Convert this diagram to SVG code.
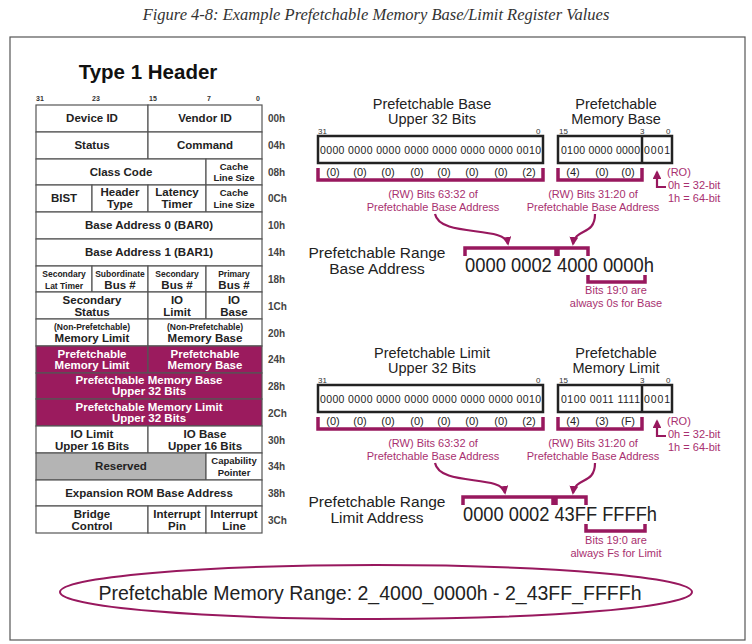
<svg xmlns="http://www.w3.org/2000/svg" width="752" height="644" viewBox="0 0 752 644">
<defs>
<marker id="ah" viewBox="0 0 10 10" refX="8" refY="5" markerWidth="4" markerHeight="4" orient="auto"><path d="M0 0 L10 5 L0 10 z" fill="#98185e"/></marker>
<style>
text{font-family:"Liberation Sans",Arial,sans-serif}
.c{fill:#fff;stroke:#555;stroke-width:1.2}
.p{fill:#9b1b5e;stroke:#555;stroke-width:1.2}
.g{fill:#b4b4b4;stroke:#555;stroke-width:1.2}
.t{font-size:11.5px;font-weight:bold;fill:#222;text-anchor:middle}
.s{font-size:9.5px;font-weight:bold;fill:#222;text-anchor:middle}
.w{font-size:11.5px;font-weight:bold;fill:#fff;text-anchor:middle}
.off{font-size:10px;font-weight:bold;fill:#444}
.bit{font-size:7px;font-weight:bold;fill:#333}
.h{font-size:14.5px;fill:#222;text-anchor:middle}
.box{fill:#fff;stroke:#222;stroke-width:2.5}
.bv{font-size:10.5px;fill:#222}
.hx{font-size:11px;fill:#222;text-anchor:middle}
.br{fill:none;stroke:#98185e;stroke-width:3.5}
.pt{font-size:11px;fill:#a8306f;text-anchor:middle}
.pl{font-size:11px;fill:#a8306f}
.lbl{font-size:15.5px;fill:#222;text-anchor:middle}
.addr{font-size:21px;fill:#222}
.arr{fill:none;stroke:#98185e;stroke-width:2.2}
</style>
</defs>
<text x="376" y="20" style="font-family:'Liberation Serif',serif;font-style:italic;font-size:16.5px;fill:#333" text-anchor="middle">Figure 4-8: Example Prefetchable Memory Base/Limit Register Values</text>
<rect x="10" y="37" width="735" height="603" fill="#fff" stroke="#555" stroke-width="1.2"/>

<g id="header">
<text x="148" y="79" style="font-size:20.5px;font-weight:bold;fill:#111" text-anchor="middle">Type 1 Header</text>
<text class="bit" x="36" y="101">31</text><text class="bit" x="92" y="101">23</text><text class="bit" x="149" y="101">15</text><text class="bit" x="207" y="101">7</text><text class="bit" x="256" y="101">0</text>
<g id="r00"><rect class="c" x="36" y="105" width="112" height="27"/><rect class="c" x="148" y="105" width="114" height="27"/><text class="t" x="92" y="122">Device ID</text><text class="t" x="205" y="122">Vendor ID</text><text class="off" x="268" y="122">00h</text></g>
<g id="r04"><rect class="c" x="36" y="132" width="112" height="27"/><rect class="c" x="148" y="132" width="114" height="27"/><text class="t" x="92" y="149">Status</text><text class="t" x="205" y="149">Command</text><text class="off" x="268" y="149">04h</text></g>
<g id="r08"><rect class="c" x="36" y="159" width="170" height="26"/><rect class="c" x="206" y="159" width="56" height="26"/><text class="t" x="121" y="176">Class Code</text><text class="s" x="234" y="170">Cache</text><text class="s" x="234" y="181">Line Size</text><text class="off" x="268" y="176">08h</text></g>
<g id="r0C"><rect class="c" x="36" y="185" width="56" height="27"/><rect class="c" x="92" y="185" width="56" height="27"/><rect class="c" x="148" y="185" width="58" height="27"/><rect class="c" x="206" y="185" width="56" height="27"/><text class="t" x="64" y="202">BIST</text><text class="t" x="120" y="196">Header</text><text class="t" x="120" y="208">Type</text><text class="t" x="177" y="196">Latency</text><text class="t" x="177" y="208">Timer</text><text class="s" x="234" y="196">Cache</text><text class="s" x="234" y="208">Line Size</text><text class="off" x="268" y="202">0Ch</text></g>
<g id="r10"><rect class="c" x="36" y="212" width="226" height="27"/><text class="t" x="149" y="229">Base Address 0 (BAR0)</text><text class="off" x="268" y="229">10h</text></g>
<g id="r14"><rect class="c" x="36" y="239" width="226" height="27"/><text class="t" x="149" y="256">Base Address 1 (BAR1)</text><text class="off" x="268" y="256">14h</text></g>
<g id="r18"><rect class="c" x="36" y="266" width="56" height="26"/><rect class="c" x="92" y="266" width="56" height="26"/><rect class="c" x="148" y="266" width="58" height="26"/><rect class="c" x="206" y="266" width="56" height="26"/><text class="s" x="64" y="277" style="font-size:8.5px">Secondary</text><text class="s" x="64" y="289" style="font-size:8.5px">Lat Timer</text><text class="s" x="120" y="277" style="font-size:8.5px">Subordinate</text><text class="t" x="120" y="289">Bus #</text><text class="s" x="177" y="277" style="font-size:8.5px">Secondary</text><text class="t" x="177" y="289">Bus #</text><text class="s" x="234" y="277" style="font-size:8.5px">Primary</text><text class="t" x="234" y="289">Bus #</text><text class="off" x="268" y="283">18h</text></g>
<g id="r1C"><rect class="c" x="36" y="292" width="112" height="27"/><rect class="c" x="148" y="292" width="58" height="27"/><rect class="c" x="206" y="292" width="56" height="27"/><text class="t" x="92" y="304">Secondary</text><text class="t" x="92" y="316">Status</text><text class="t" x="177" y="304">IO</text><text class="t" x="177" y="316">Limit</text><text class="t" x="234" y="304">IO</text><text class="t" x="234" y="316">Base</text><text class="off" x="268" y="310">1Ch</text></g>
<g id="r20"><rect class="c" x="36" y="319" width="112" height="27"/><rect class="c" x="148" y="319" width="114" height="27"/><text class="s" x="92" y="330" style="font-size:8.5px">(Non-Prefetchable)</text><text class="t" x="92" y="342">Memory Limit</text><text class="s" x="205" y="330" style="font-size:8.5px">(Non-Prefetchable)</text><text class="t" x="205" y="342">Memory Base</text><text class="off" x="268" y="337">20h</text></g>
<g id="r24"><rect class="p" x="36" y="346" width="112" height="27"/><rect class="p" x="148" y="346" width="114" height="27"/><text class="w" x="92" y="358">Prefetchable</text><text class="w" x="92" y="369">Memory Limit</text><text class="w" x="205" y="358">Prefetchable</text><text class="w" x="205" y="369">Memory Base</text><text class="off" x="268" y="363">24h</text></g>
<g id="r28"><rect class="p" x="36" y="373" width="226" height="26"/><text class="w" x="149" y="384">Prefetchable Memory Base</text><text class="w" x="149" y="395">Upper 32 Bits</text><text class="off" x="268" y="390">28h</text></g>
<g id="r2C"><rect class="p" x="36" y="399" width="226" height="27"/><text class="w" x="149" y="411">Prefetchable Memory Limit</text><text class="w" x="149" y="422">Upper 32 Bits</text><text class="off" x="268" y="417">2Ch</text></g>
<g id="r30"><rect class="c" x="36" y="426" width="112" height="27"/><rect class="c" x="148" y="426" width="114" height="27"/><text class="t" x="92" y="438">IO Limit</text><text class="t" x="92" y="450">Upper 16 Bits</text><text class="t" x="205" y="438">IO Base</text><text class="t" x="205" y="450">Upper 16 Bits</text><text class="off" x="268" y="444">30h</text></g>
<g id="r34"><rect class="g" x="36" y="453" width="170" height="27"/><rect class="c" x="206" y="453" width="56" height="27"/><text class="t" x="121" y="470">Reserved</text><text class="s" x="234" y="464">Capability</text><text class="s" x="234" y="476">Pointer</text><text class="off" x="268" y="470">34h</text></g>
<g id="r38"><rect class="c" x="36" y="480" width="226" height="26"/><text class="t" x="149" y="497">Expansion ROM Base Address</text><text class="off" x="268" y="497">38h</text></g>
<g id="r3C"><rect class="c" x="36" y="506" width="112" height="27"/><rect class="c" x="148" y="506" width="58" height="27"/><rect class="c" x="206" y="506" width="56" height="27"/><text class="t" x="92" y="518">Bridge</text><text class="t" x="92" y="530">Control</text><text class="t" x="177" y="518">Interrupt</text><text class="t" x="177" y="530">Pin</text><text class="t" x="234" y="518">Interrupt</text><text class="t" x="234" y="530">Line</text><text class="off" x="268" y="524">3Ch</text></g>
</g>

<g id="base">
<text class="h" x="432" y="109">Prefetchable Base</text><text class="h" x="432" y="124">Upper 32 Bits</text>
<text class="h" x="616" y="109">Prefetchable</text><text class="h" x="616" y="124">Memory Base</text>
<text class="bit" x="318" y="134" style="font-weight:normal;font-size:8px">31</text><text class="bit" x="536" y="134" style="font-weight:normal;font-size:8px">0</text>
<text class="bit" x="559" y="134" style="font-weight:normal;font-size:8px">15</text><text class="bit" x="640" y="134" style="font-weight:normal;font-size:8px">3</text><text class="bit" x="666" y="134" style="font-weight:normal;font-size:8px">0</text>
<rect class="box" x="318" y="136" width="225" height="27"/>
<text class="bv" x="320" y="154" textLength="221">0000 0000 0000 0000 0000 0000 0000 0010</text>
<rect class="box" x="558" y="136" width="114" height="27"/><line x1="642" y1="136" x2="642" y2="163" stroke="#222" stroke-width="2.5"/>
<text class="bv" x="561" y="154" textLength="79">0100 0000 0000</text><text class="bv" x="644" y="154" textLength="26">0001</text>
<g class="hx"><text x="333" y="176">(0)</text><text x="360" y="176">(0)</text><text x="388" y="176">(0)</text><text x="417" y="176">(0)</text><text x="444" y="176">(0)</text><text x="472" y="176">(0)</text><text x="501" y="176">(0)</text><text x="529" y="176">(2)</text><text x="573" y="176">(4)</text><text x="602" y="176">(0)</text><text x="628" y="176">(0)</text></g>
<text class="pl" x="667" y="176">(RO)</text><text class="pl" x="668" y="189">0h = 32-bit</text><text class="pl" x="668" y="202">1h = 64-bit</text>
<text class="pt" x="433" y="198">(RW) Bits 63:32 of</text><text class="pt" x="433" y="211">Prefetchable Base Address</text>
<text class="pt" x="593" y="198">(RW) Bits 31:20 of</text><text class="pt" x="593" y="211">Prefetchable Base Address</text>
<text class="lbl" x="377" y="258">Prefetchable Range</text><text class="lbl" x="377" y="274">Base Address</text>
<text class="addr" x="465" y="272" textLength="189" lengthAdjust="spacingAndGlyphs">0000 0002 4000 0000h</text>
<text class="pt" x="616" y="294">Bits 19:0 are</text><text class="pt" x="616" y="307">always 0s for Base</text>
</g>

<g id="limit">
<text class="h" x="432" y="358">Prefetchable Limit</text><text class="h" x="432" y="373">Upper 32 Bits</text>
<text class="h" x="616" y="358">Prefetchable</text><text class="h" x="616" y="373">Memory Limit</text>
<text class="bit" x="318" y="383" style="font-weight:normal;font-size:8px">31</text><text class="bit" x="536" y="383" style="font-weight:normal;font-size:8px">0</text>
<text class="bit" x="559" y="383" style="font-weight:normal;font-size:8px">15</text><text class="bit" x="640" y="383" style="font-weight:normal;font-size:8px">3</text><text class="bit" x="666" y="383" style="font-weight:normal;font-size:8px">0</text>
<rect class="box" x="318" y="385" width="225" height="27"/>
<text class="bv" x="320" y="403" textLength="221">0000 0000 0000 0000 0000 0000 0000 0010</text>
<rect class="box" x="558" y="385" width="114" height="27"/><line x1="642" y1="385" x2="642" y2="412" stroke="#222" stroke-width="2.5"/>
<text class="bv" x="561" y="403" textLength="79">0100 0011 1111</text><text class="bv" x="644" y="403" textLength="26">0001</text>
<g class="hx"><text x="333" y="425">(0)</text><text x="360" y="425">(0)</text><text x="388" y="425">(0)</text><text x="417" y="425">(0)</text><text x="444" y="425">(0)</text><text x="472" y="425">(0)</text><text x="501" y="425">(0)</text><text x="529" y="425">(2)</text><text x="573" y="425">(4)</text><text x="602" y="425">(3)</text><text x="628" y="425">(F)</text></g>
<text class="pl" x="667" y="425">(RO)</text><text class="pl" x="668" y="438">0h = 32-bit</text><text class="pl" x="668" y="451">1h = 64-bit</text>
<text class="pt" x="433" y="447">(RW) Bits 63:32 of</text><text class="pt" x="433" y="460">Prefetchable Base Address</text>
<text class="pt" x="593" y="447">(RW) Bits 31:20 of</text><text class="pt" x="593" y="460">Prefetchable Base Address</text>
<text class="lbl" x="377" y="507">Prefetchable Range</text><text class="lbl" x="377" y="523">Limit Address</text>
<text class="addr" x="463" y="521" textLength="194" lengthAdjust="spacingAndGlyphs">0000 0002 43FF FFFFh</text>
<text class="pt" x="616" y="544">Bits 19:0 are</text><text class="pt" x="616" y="557">always Fs for Limit</text>
</g>

<g id="connectors">
<path class="br" d="M318 168 V180 H543 V168"/><path class="br" d="M558 168 V180 H642 V168"/>
<path class="arr" d="M666 187 H657 V172" marker-end="url(#ah)"/>
<path class="br" d="M465 256 V248 H556 V256 M558 256 V248 H588 V256" stroke-width="3"/>
<path class="br" d="M588 275 V282 H645 V275" stroke-width="3"/>
<path class="arr" d="M435 214 C440 238 505 225 508 244" marker-end="url(#ah)"/>
<path class="arr" d="M595 214 C595 236 575 228 573 244" marker-end="url(#ah)"/>

<path class="br" d="M318 417 V429 H543 V417"/><path class="br" d="M558 417 V429 H642 V417"/>
<path class="arr" d="M666 436 H657 V421" marker-end="url(#ah)"/>
<path class="br" d="M463 505 V497 H553 V505 M556 505 V497 H586 V505" stroke-width="3"/>
<path class="br" d="M586 524 V531 H645 V524" stroke-width="3"/>
<path class="arr" d="M435 463 C440 487 502 474 505 493" marker-end="url(#ah)"/>
<path class="arr" d="M595 463 C595 485 575 477 573 493" marker-end="url(#ah)"/>
</g>

<g id="range">
<ellipse cx="376" cy="592" rx="316" ry="27" fill="none" stroke="#98185e" stroke-width="2"/>
<text x="370" y="600" style="font-size:19.5px;fill:#222" text-anchor="middle">Prefetchable Memory Range: 2_4000_0000h - 2_43FF_FFFFh</text>
</g>
</svg>
